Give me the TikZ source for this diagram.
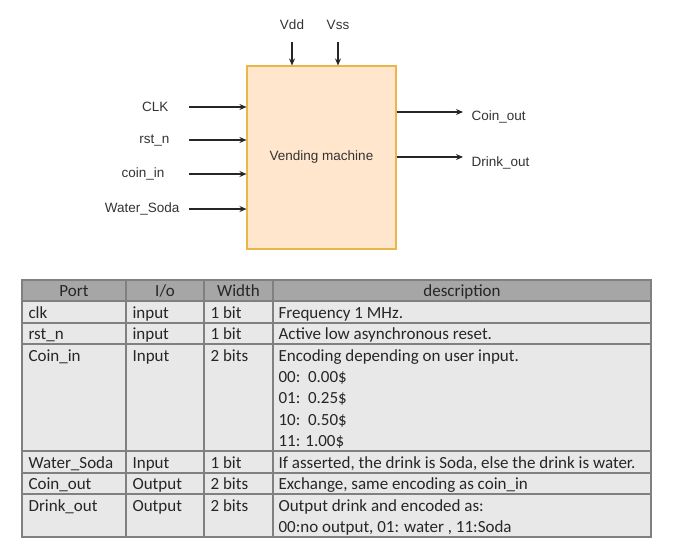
\documentclass[tikz,border=0pt]{standalone}
\usepackage{fontspec}
\setmainfont{Liberation Sans}
\newfontfamily\tabfont{Carlito}
\usetikzlibrary{arrows.meta}

\definecolor{boxfill}{HTML}{FFE6CC}
\definecolor{boxline}{HTML}{E8B64A}
\definecolor{headgray}{HTML}{A6A6A6}
\definecolor{rowgray}{HTML}{E8E8E8}
\definecolor{gridgray}{HTML}{808080}

\begin{document}
\begin{tikzpicture}[x=1pt, y=-1pt, line width=1.1pt,
    lbl/.style={text=black!80, font=\fontsize{13.5}{15}\selectfont, inner sep=0pt},
    arr/.style={-{Stealth[length=7pt, width=6pt]}, black!85},
    vmbox/.style={draw=boxline, fill=boxfill, minimum width=149pt, minimum height=183pt, inner sep=0pt},
    tabtxt/.style={anchor=base west, inner sep=0pt, font=\tabfont\fontsize{17}{19}\selectfont, text=black!85},
    tabhead/.style={anchor=base, inner sep=0pt, font=\tabfont\fontsize{17}{19}\selectfont, text=black!85}]
  \useasboundingbox (0,0) rectangle (673,549);

  % block
  \node[vmbox, lbl] (vm) at (321.5,157.5) {Vending machine};

  % supply pins
  \node[lbl] (vdd) at (292,25) {Vdd};
  \node[lbl] (vss) at (338,25) {Vss};
  \coordinate (vddin) at (292,42);
  \coordinate (vssin) at (338,42);
  \draw[arr] (vddin) -- (vddin |- vm.north);
  \draw[arr] (vssin) -- (vssin |- vm.north);

  % inputs
  \node[lbl, anchor=east] (clk)   at (169,107) {CLK};
  \node[lbl, anchor=east] (rst)   at (170,140) {rst\_n};
  \node[lbl, anchor=east] (coin)  at (165,174) {coin\_in};
  \node[lbl, anchor=east] (water) at (180,209) {Water\_Soda};
  \coordinate (clkin)   at (189,107);
  \coordinate (rstin)   at (189,140);
  \coordinate (coinin)  at (189,174);
  \coordinate (waterin) at (189,209);
  \draw[arr] (clkin)   -- (clkin -| vm.west);
  \draw[arr] (rstin)   -- (rstin -| vm.west);
  \draw[arr] (coinin)  -- (coinin -| vm.west);
  \draw[arr] (waterin) -- (waterin -| vm.west);

  % outputs
  \coordinate (coinend)  at (463,112);
  \coordinate (drinkend) at (463,157);
  \draw[arr] (coinend -| vm.east)  -- (coinend);
  \draw[arr] (drinkend -| vm.east) -- (drinkend);
  \node[lbl, anchor=west] (coinout)  at (471,117) {Coin\_out};
  \node[lbl, anchor=west] (drinkout) at (471,163) {Drink\_out};

  % port table
  \fill[headgray] (22,280) rectangle (651,301);
  \fill[rowgray]  (22,301) rectangle (651,537);
  \draw[gridgray] (22,301) -- (651,301);
  \draw[gridgray] (22,323) -- (651,323);
  \draw[gridgray] (22,344) -- (651,344);
  \draw[gridgray] (22,451) -- (651,451);
  \draw[gridgray] (22,473) -- (651,473);
  \draw[gridgray] (22,494) -- (651,494);
  \draw[gridgray] (126,280) -- (126,537);
  \draw[gridgray] (204,280) -- (204,537);
  \draw[gridgray] (273,280) -- (273,537);
  \draw[gridgray] (22,280) rectangle (651,537);

  \node[tabhead] (hport)  at (74,296.5)  {Port};
  \node[tabhead] (hio)    at (165,296.5) {I/o};
  \node[tabhead] (hwidth) at (238.5,296.5) {Width};
  \node[tabhead] (hdesc)  at (462,296.5) {description};

  \node[tabtxt] (p1) at (28,318) {clk};
  \node[tabtxt] (d1) at (132,318) {input};
  \node[tabtxt] (w1) at (210,318) {1 bit};
  \node[tabtxt] (t1) at (278,318) {Frequency 1 MHz.};

  \node[tabtxt] (p2) at (28,339.5) {rst\_n};
  \node[tabtxt] (d2) at (132,339.5) {input};
  \node[tabtxt] (w2) at (210,339.5) {1 bit};
  \node[tabtxt] (t2) at (278,339.5) {Active low asynchronous reset.};

  \node[tabtxt] (p3) at (28,361) {Coin\_in};
  \node[tabtxt] (d3) at (132,361) {Input};
  \node[tabtxt] (w3) at (210,361) {2 bits};
  \node[tabtxt] (t3)  at (278,361)   {Encoding depending on user input.};
  \node[tabtxt] (t3a) at (278,382.4) {00:\ \ 0.00\$};
  \node[tabtxt] (t3b) at (278,403.8) {01:\ \ 0.25\$};
  \node[tabtxt] (t3c) at (278,425.2) {10:\ \ 0.50\$};
  \node[tabtxt] (t3d) at (278,446.6) {11: 1.00\$};

  \node[tabtxt] (p4) at (28,468) {Water\_Soda};
  \node[tabtxt] (d4) at (132,468) {Input};
  \node[tabtxt] (w4) at (210,468) {1 bit};
  \node[tabtxt] (t4) at (278,468) {If asserted, the drink is Soda, else the drink is water.};

  \node[tabtxt] (p5) at (28,489.5) {Coin\_out};
  \node[tabtxt] (d5) at (132,489.5) {Output};
  \node[tabtxt] (w5) at (210,489.5) {2 bits};
  \node[tabtxt] (t5) at (278,489.5) {Exchange, same encoding as coin\_in};

  \node[tabtxt] (p6) at (28,511) {Drink\_out};
  \node[tabtxt] (d6) at (132,511) {Output};
  \node[tabtxt] (w6) at (210,511) {2 bits};
  \node[tabtxt] (t6)  at (278,511)   {Output drink and encoded as:};
  \node[tabtxt] (t6a) at (278,532.4) {00:no output, 01: water , 11:Soda};
\end{tikzpicture}
\end{document}
